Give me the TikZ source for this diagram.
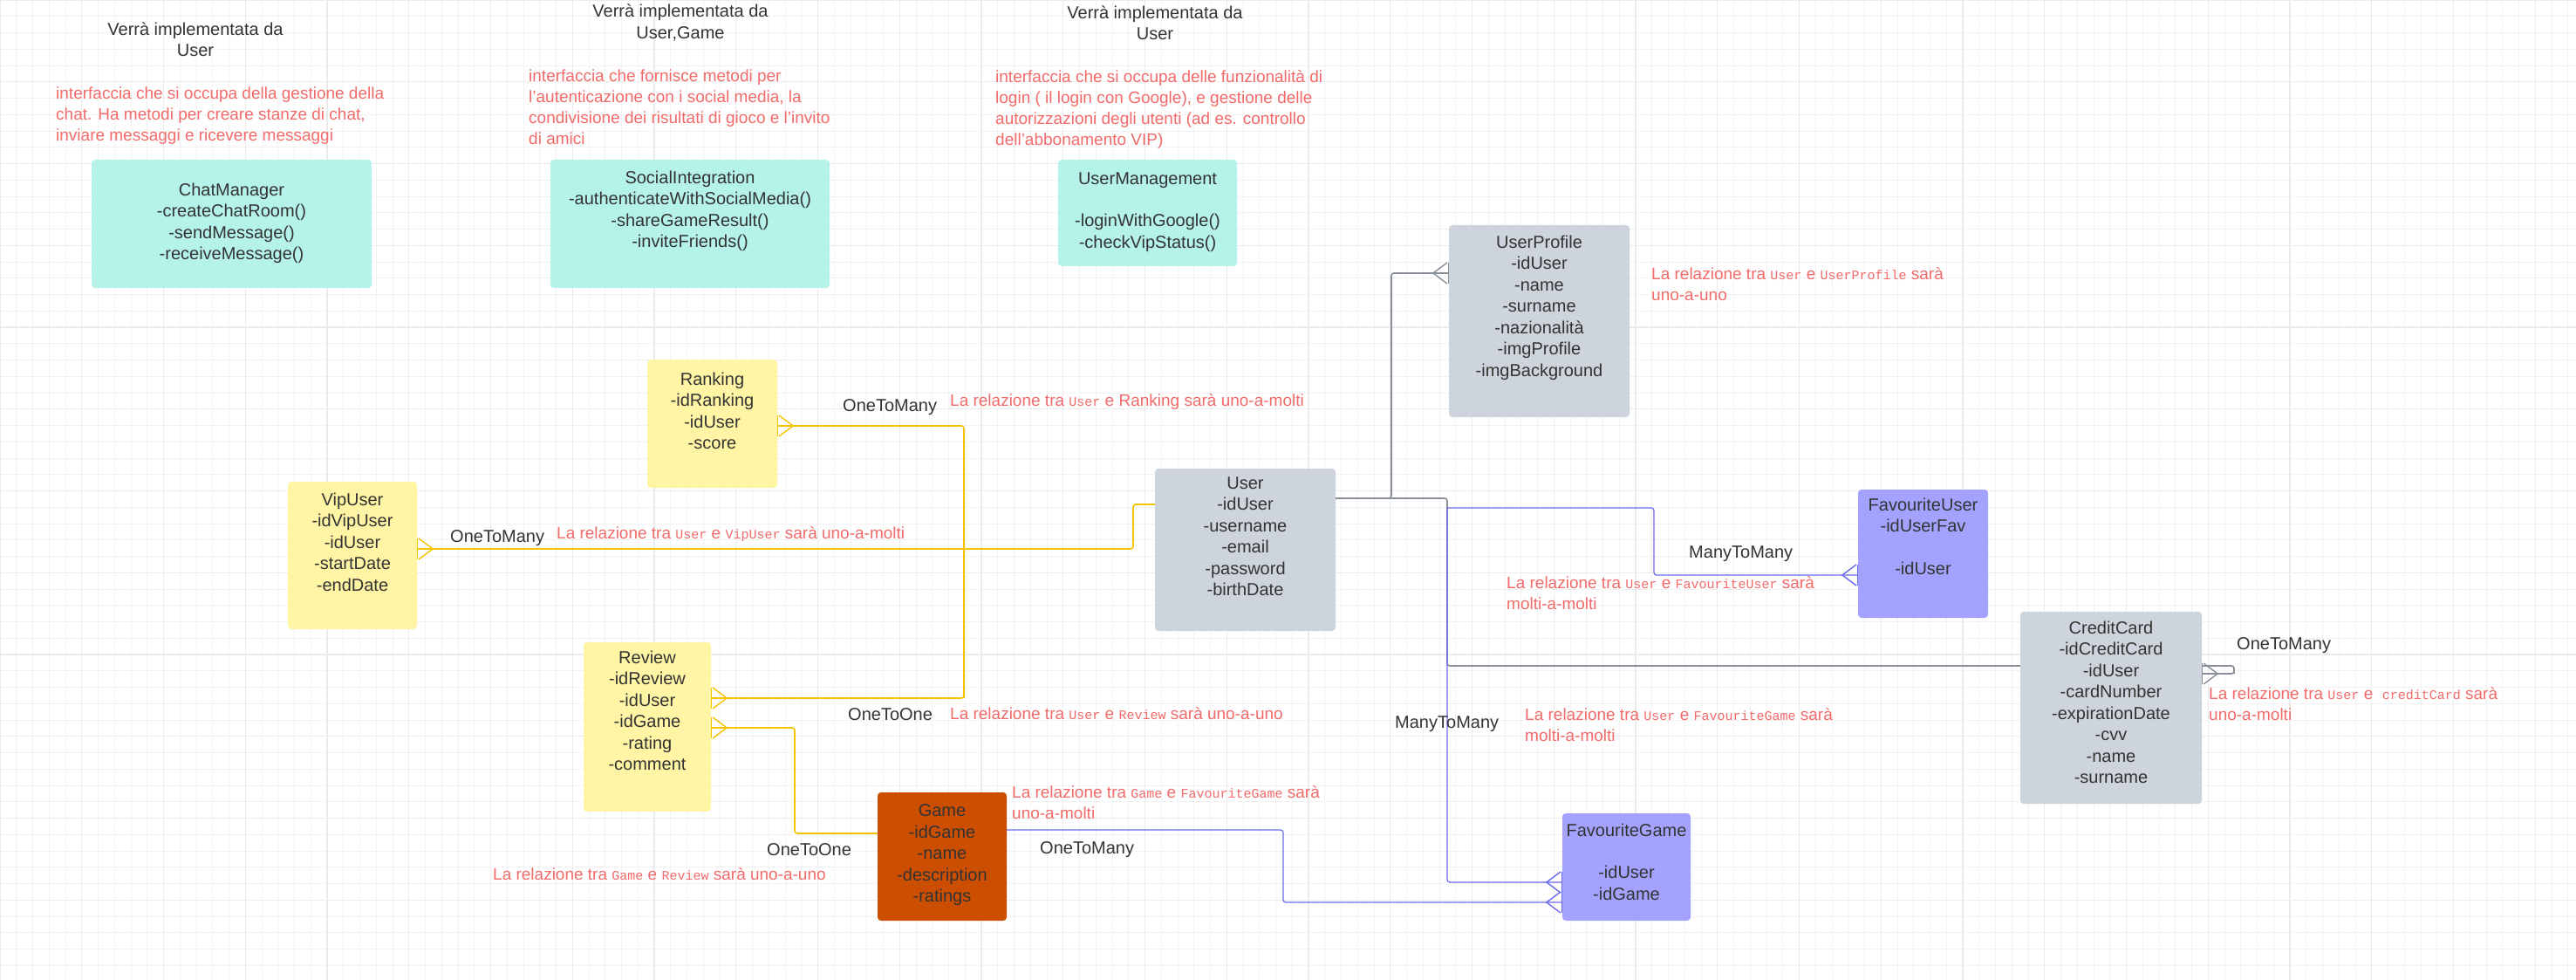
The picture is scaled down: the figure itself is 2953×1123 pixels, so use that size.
\documentclass[tikz,border=0pt]{standalone}
\usepackage{fontspec}
\setmainfont{Liberation Sans}
\newfontfamily\codef{Liberation Mono}
\usetikzlibrary{arrows.meta}
\definecolor{teal}{HTML}{B5F2EA}
\definecolor{gry}{HTML}{CED4DB}
\definecolor{yel}{HTML}{FFF5A5}
\definecolor{vio}{HTML}{A3A3FF}
\definecolor{org}{HTML}{CC4E00}
\definecolor{redt}{HTML}{F26A6A}
\definecolor{txt}{HTML}{333333}
\definecolor{yline}{HTML}{F5C400}
\definecolor{gline}{HTML}{8A9099}
\definecolor{bline}{HTML}{6B6BF0}
\newcommand{\cd}[1]{{\codef\fontsize{15}{18}\selectfont #1}}
\tikzset{
  x=1pt,y=-1pt,
  box/.style={rounded corners=4pt,draw=none,text=txt,align=center,font=\fontsize{20}{24.5}\selectfont},
  lbl/.style={text=txt,font=\fontsize{20}{24.5}\selectfont,inner sep=0pt},
  red/.style={text=redt,font=\fontsize{19}{24}\selectfont,inner sep=0pt,align=left,anchor=north west},
  crow/.style={-{Straight Barb[reversed,length=16pt,width=24pt,line width=1.4pt]Bar[width=24pt,line width=1.4pt,sep=0pt]}},
  conn/.style={line width=1.6pt,rounded corners=3pt},
}
\begin{document}
\begin{tikzpicture}
\fill[white] (0,0) rectangle (2953,1123);
\useasboundingbox (0,0) rectangle (2953,1123);
\foreach \i in {0,...,158} {\draw[black!5,line width=0.8pt] (\i*18.75,0) -- (\i*18.75,1123);}
\foreach \i in {0,...,60} {\draw[black!5,line width=0.8pt] (0,\i*18.75) -- (2953,\i*18.75);}
\foreach \i in {0,...,32} {\draw[black!8,line width=1.2pt] (\i*93.75,0) -- (\i*93.75,1123);}
\foreach \i in {0,...,12} {\draw[black!8,line width=1.2pt] (0,\i*93.75) -- (2953,\i*93.75);}

% named anchor coordinates
\coordinate (rankR) at (891,488); \coordinate (revR1) at (815,800);
\coordinate (userL) at (1324,578); \coordinate (vipR) at (478,629);
\coordinate (gameL) at (1006,955); \coordinate (revR2) at (815,834);
\coordinate (userR) at (1531,571); \coordinate (upL) at (1661,313);
\coordinate (ccR) at (2524,772);
\coordinate (fuL) at (2130,659); \coordinate (fgL1) at (1791,1011);
\coordinate (gameR) at (1154,951); \coordinate (fgL2) at (1791,1034);

% grey line behind credit card
\draw[conn,gline] (userR) -- (1659,571) -- (1659,763) -- (2561,763) -- (2561,772);

% boxes
\fill[teal,rounded corners=4pt] (105,183) rectangle (426,330);
\node[box] (chat) at (265.5,256) {ChatManager\\-createChatRoom()\\-sendMessage()\\-receiveMessage()};
\fill[teal,rounded corners=4pt] (631,183) rectangle (951,330);
\node[box] (soc) at (791,242) {SocialIntegration\\-authenticateWithSocialMedia()\\-shareGameResult()\\-inviteFriends()};
\fill[teal,rounded corners=4pt] (1213,183) rectangle (1418,305);
\node[box] (um) at (1315.5,243) {UserManagement\\[24pt]-loginWithGoogle()\\-checkVipStatus()};
\fill[gry,rounded corners=4pt] (1661,258) rectangle (1868,478);
\node[box,anchor=north] (up) at (1764.5,266) {UserProfile\\-idUser\\-name\\-surname\\-nazionalità\\-imgProfile\\-imgBackground};
\fill[yel,rounded corners=4pt] (742,412) rectangle (891,559);
\node[box,anchor=north] (rank) at (816.5,423) {Ranking\\-idRanking\\-idUser\\-score};
\fill[yel,rounded corners=4pt] (330,552) rectangle (478,721);
\node[box,anchor=north] (vip) at (404,561) {VipUser\\-idVipUser\\-idUser\\-startDate\\-endDate};
\fill[gry,rounded corners=4pt] (1324,537) rectangle (1531,723);
\node[box,anchor=north] (user) at (1427.5,543) {User\\-idUser\\-username\\-email\\-password\\-birthDate};
\fill[vio,rounded corners=4pt] (2130,561) rectangle (2279,708);
\node[box,anchor=north] (fu) at (2204.5,567) {FavouriteUser\\-idUserFav\\[24pt]-idUser};
\fill[gry,rounded corners=4pt] (2316,701) rectangle (2524,921);
\node[box,anchor=north] (cc) at (2420,708) {CreditCard\\-idCreditCard\\-idUser\\-cardNumber\\-expirationDate\\-cvv\\-name\\-surname};
\fill[yel,rounded corners=4pt] (669,736) rectangle (815,930);
\node[box,anchor=north] (rev) at (742,742) {Review\\-idReview\\-idUser\\-idGame\\-rating\\-comment};
\fill[org,rounded corners=4pt] (1006,908) rectangle (1154,1055);
\node[box,anchor=north] (game) at (1080,918) {Game\\-idGame\\-name\\-description\\-ratings};
\fill[vio,rounded corners=4pt] (1791,932) rectangle (1938,1055);
\node[box,anchor=north] (fg) at (1864.5,940) {FavouriteGame\\[24pt]-idUser\\-idGame};

% connectors
\draw[conn,yline,crow] (1105,800) -- (1105,488) -- (rankR);
\draw[conn,yline,crow] (1105,700) -- (1105,800) -- (revR1);
\draw[conn,yline,crow] (userL) -- (1299,578) -- (1299,629) -- (vipR);
\draw[conn,yline,crow] (gameL) -- (911,955) -- (911,834) -- (revR2);
\draw[conn,gline,crow] (userR) -- (1595,571) -- (1595,313) -- (upL);
\draw[conn,gline,crow] (2561,765) -- (2561,772) -- (ccR);
\draw[conn,bline,line width=1.2pt,crow] (1659,582) -- (1896,582) -- (1896,659) -- (fuL);
\draw[conn,bline,line width=1.2pt,crow] (1659,582) -- (1659,1011) -- (fgL1);
\draw[conn,bline,line width=1.2pt,crow] (gameR) -- (1471,951) -- (1471,1034) -- (fgL2);

% header labels
\node[lbl,align=center] (h1) at (224,45) {Verrà implementata da\\User};
\node[lbl,align=center] (h2) at (780,26) {Verrà implementata da\\User,Game};
\node[lbl,align=center] (h3) at (1324,26) {Verrà implementata da\\User};
\node[red] (d1) at (64,100) {interfaccia che si occupa della gestione della\\chat. Ha metodi per creare stanze di chat,\\inviare messaggi e ricevere messaggi};
\node[red] (d2) at (606,80) {interfaccia che fornisce metodi per\\l'autenticazione con i social media, la\\condivisione dei risultati di gioco e l'invito\\di amici};
\node[red] (d3) at (1141,80) {interfaccia che si occupa delle funzionalità di\\login ( il login con Google), e gestione delle\\autorizzazioni degli utenti (ad es. controllo\\dell'abbonamento VIP)};

% relation labels
\node[lbl,anchor=west] (l1) at (966,467) {OneToMany};
\node[red,anchor=west] (r1) at (1089,460) {La relazione tra \cd{User} e Ranking sarà uno-a-molti};
\node[lbl,anchor=west] (l2) at (516,617) {OneToMany};
\node[red,anchor=west] (r2) at (638,612) {La relazione tra \cd{User} e \cd{VipUser} sarà uno-a-molti};
\node[lbl,anchor=west] (l3) at (972,819) {OneToOne};
\node[red,anchor=west] (r3) at (1089,818) {La relazione tra \cd{User} e \cd{Review} sarà uno-a-uno};
\node[lbl,anchor=west] (l4) at (879,974) {OneToOne};
\node[red,anchor=west] (r4) at (565,1002) {La relazione tra \cd{Game} e \cd{Review} sarà uno-a-uno};
\node[red] (r5) at (1160,900) {La relazione tra \cd{Game} e \cd{FavouriteGame} sarà\\uno-a-molti};
\node[lbl,anchor=west] (l5) at (1192,974) {OneToMany};
\node[lbl,anchor=west] (l6) at (1936,635) {ManyToMany};
\node[red] (r6) at (1727,660) {La relazione tra \cd{User} e \cd{FavouriteUser} sarà\\molti-a-molti};
\node[lbl,anchor=west] (l7) at (1599,830) {ManyToMany};
\node[red] (r7) at (1748,811) {La relazione tra \cd{User} e \cd{FavouriteGame} sarà\\molti-a-molti};
\node[lbl,anchor=west] (l8) at (2564,740) {OneToMany};
\node[red] (r8) at (2532,787) {La relazione tra \cd{User} e ~\cd{creditCard} sarà\\uno-a-molti};
\node[red] (r9) at (1893,306) {La relazione tra \cd{User} e \cd{UserProfile} sarà\\uno-a-uno};
\end{tikzpicture}
\end{document}
